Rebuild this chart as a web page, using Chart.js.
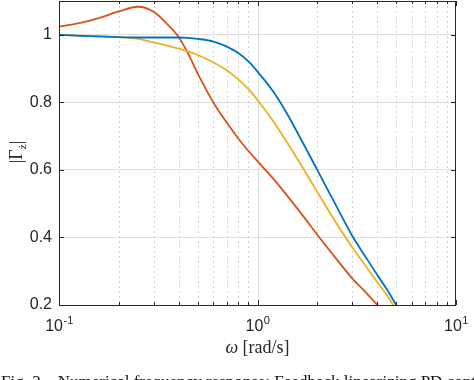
<!DOCTYPE html>
<html>
<head>
<meta charset="utf-8">
<script src="https://cdn.jsdelivr.net/npm/chart.js@4.4.1/dist/chart.umd.min.js"></script>
<style>
  html, body { margin: 0; padding: 0; background: #fff; }
  #wrap { position: relative; width: 474px; height: 380px; }
</style>
</head>
<body>
<div id="wrap"><canvas id="c" width="474" height="380"></canvas></div>
<script>
// Angular frequency samples [rad/s]
const omega = [0.1, 0.13, 0.16, 0.2, 0.25, 0.3, 0.35, 0.4, 0.45, 0.5, 0.6, 0.7, 0.8, 0.9, 1.0, 1.2, 1.4, 1.7, 2.0, 2.5, 3.0, 3.5, 4.0, 4.5, 5.0, 5.5];
// |Gamma| curves
const blueVals   = [1.000, 0.997, 0.995, 0.993, 0.992, 0.992, 0.992, 0.992, 0.991, 0.988, 0.980, 0.965, 0.946, 0.921, 0.891, 0.832, 0.769, 0.678, 0.600, 0.492, 0.405, 0.343, 0.290, 0.245, 0.200, 0.165];
const yellowVals = [1.000, 0.997, 0.995, 0.993, 0.988, 0.977, 0.968, 0.959, 0.950, 0.940, 0.918, 0.895, 0.868, 0.839, 0.807, 0.744, 0.684, 0.604, 0.535, 0.441, 0.371, 0.316, 0.269, 0.228, 0.186, 0.155];
const redVals    = [1.024, 1.036, 1.050, 1.069, 1.083, 1.068, 1.032, 0.994, 0.941, 0.885, 0.799, 0.740, 0.693, 0.656, 0.626, 0.574, 0.526, 0.463, 0.408, 0.336, 0.279, 0.238, 0.201, 0.170, 0.140, 0.115];
// Tick labels
const yTicks = [0.2, 0.4, 0.6, 0.8, 1];
const xMajor = [0.1, 1, 10];
const xExponents = ["-1", "0", "1"];
const xTitle = ["ω", " [rad/s]"];
const yTitle = ["|Γ", "ż", "|"];
const caption = "Fig. 3.   Numerical frequency response: Feedback linearizing PD controller";

const toXY = vals => omega.map((w, i) => ({x: w, y: vals[i]}));

const AX = '#262626';
const GRID = '#dedede';

const decorPlugin = {
  id: 'decor',
  beforeDatasetsDraw(chart) {
    const {ctx, chartArea: a, scales: {x}} = chart;
    ctx.save();
    for (let d = 0.1; d < 10; d *= 10) {
      for (let m = 1; m <= 9; m++) {
        const v = +(d * m).toPrecision(3);
        if (v <= 0.1 || v >= 10) continue;
        const px = Math.round(x.getPixelForValue(v)) + 0.5;
        ctx.beginPath();
        if (m === 1) { ctx.setLineDash([]); ctx.strokeStyle = GRID; }
        else { ctx.setLineDash([2, 3]); ctx.strokeStyle = '#d2d2d2'; }
        ctx.lineWidth = 1;
        ctx.moveTo(px, a.top); ctx.lineTo(px, a.bottom);
        ctx.stroke();
      }
    }
    ctx.restore();
  },
  afterDraw(chart) {
    const {ctx, chartArea: a, scales: {x, y}} = chart;
    ctx.save();
    ctx.setLineDash([]);
    ctx.strokeStyle = AX;
    ctx.lineWidth = 1;
    // box
    ctx.strokeRect(a.left + 0.5, a.top + 0.5, a.right - a.left - 1, a.bottom - a.top);
    // x ticks (inward), top and bottom
    ctx.beginPath();
    for (let d = 0.1; d < 10.5; d *= 10) {
      for (let m = 1; m <= 9; m++) {
        const v = +(d * m).toPrecision(3);
        if (v > 10) break;
        const px = Math.round(x.getPixelForValue(v)) + 0.5;
        const len = m === 1 ? 5 : 3;
        ctx.moveTo(px, a.bottom); ctx.lineTo(px, a.bottom - len);
        ctx.moveTo(px, a.top); ctx.lineTo(px, a.top + len);
        if (v >= 10) break;
      }
    }
    // y ticks (inward), left and right
    yTicks.forEach(v => {
      const py = Math.round(y.getPixelForValue(v)) + 0.5;
      ctx.moveTo(a.left, py); ctx.lineTo(a.left + 5, py);
      ctx.moveTo(a.right, py); ctx.lineTo(a.right - 5, py);
    });
    ctx.stroke();

    // x tick labels: 10^k
    ctx.fillStyle = AX;
    ctx.textBaseline = 'alphabetic';
    xMajor.forEach((v, i) => {
      const px = x.getPixelForValue(v);
      ctx.font = '16px "Liberation Sans", Arial, sans-serif';
      const wb = ctx.measureText('10').width;
      ctx.font = '11px "Liberation Sans", Arial, sans-serif';
      const we = ctx.measureText(xExponents[i]).width;
      const x0 = px - (wb + we) / 2;
      ctx.font = '16px "Liberation Sans", Arial, sans-serif';
      ctx.textAlign = 'left';
      ctx.fillText('10', x0, 331);
      ctx.font = '11px "Liberation Sans", Arial, sans-serif';
      ctx.fillText(xExponents[i], x0 + wb + 0.5, 324);
    });

    // x axis title
    ctx.font = 'italic 18px "Liberation Serif", "Times New Roman", serif';
    const w1 = ctx.measureText(xTitle[0]).width;
    ctx.font = '18px "Liberation Serif", "Times New Roman", serif';
    const w2 = ctx.measureText(xTitle[1]).width;
    const cx = (a.left + a.right) / 2;
    let sx = cx - (w1 + w2) / 2;
    ctx.textAlign = 'left';
    ctx.font = 'italic 18px "Liberation Serif", "Times New Roman", serif';
    ctx.fillText(xTitle[0], sx, 353);
    ctx.font = '18px "Liberation Serif", "Times New Roman", serif';
    ctx.fillText(xTitle[1], sx + w1, 353);

    // y axis title, rotated
    ctx.save();
    ctx.translate(22, 152);
    ctx.rotate(-Math.PI / 2);
    ctx.font = '18px "Liberation Serif", "Times New Roman", serif';
    const t0 = ctx.measureText(yTitle[0]).width;
    const t2 = ctx.measureText(yTitle[2]).width;
    ctx.font = '11px "Liberation Serif", "Times New Roman", serif';
    const t1 = ctx.measureText(yTitle[1]).width;
    let ty = -(t0 + t1 + t2) / 2;
    ctx.font = '18px "Liberation Serif", "Times New Roman", serif';
    ctx.fillText(yTitle[0], ty, 0);
    ctx.font = '11px "Liberation Serif", "Times New Roman", serif';
    ctx.fillText(yTitle[1], ty + t0, 4);
    ctx.font = '18px "Liberation Serif", "Times New Roman", serif';
    ctx.fillText(yTitle[2], ty + t0 + t1, 0);
    ctx.restore();

    // caption
    ctx.fillStyle = '#111';
    ctx.font = '17px "Liberation Serif", "Times New Roman", serif';
    ctx.textAlign = 'left';
    ctx.fillText(caption, 1, 387);
    ctx.restore();
  }
};

new Chart(document.getElementById('c'), {
  type: 'line',
  data: {
    datasets: [
      { label: 'blue', data: toXY(blueVals), borderColor: '#0072BD', borderWidth: 1.8, pointRadius: 0, cubicInterpolationMode: 'monotone', fill: false },
      { label: 'yellow', data: toXY(yellowVals), borderColor: '#EDB120', borderWidth: 1.8, pointRadius: 0, cubicInterpolationMode: 'monotone', fill: false },
      { label: 'red', data: toXY(redVals), borderColor: '#D95319', borderWidth: 1.8, pointRadius: 0, cubicInterpolationMode: 'monotone', fill: false }
    ]
  },
  options: {
    responsive: false,
    animation: false,
    events: [],
    layout: { padding: { left: 0, right: 18, top: 1, bottom: 0 } },
    plugins: { legend: { display: false }, tooltip: { enabled: false } },
    scales: {
      x: {
        type: 'logarithmic',
        min: 0.1, max: 10,
        grid: { display: false },
        border: { display: false },
        ticks: { display: false },
        afterFit: s => { s.height = 75; s.paddingLeft = 0; s.paddingRight = 0; }
      },
      y: {
        type: 'linear',
        min: 0.2, max: 1.1,
        afterBuildTicks: s => { s.ticks = yTicks.map(v => ({value: v})); },
        ticks: {
          color: AX,
          padding: 7,
          font: { family: '"Liberation Sans", Arial, sans-serif', size: 16 },
          callback: v => String(+v.toFixed(1))
        },
        grid: {
          color: c => (c.tick && c.tick.value > 0.25) ? GRID : 'rgba(0,0,0,0)',
          drawTicks: false,
          lineWidth: 1
        },
        border: { display: false },
        afterFit: s => { s.width = 59; s.paddingTop = 0; s.paddingBottom = 0; }
      }
    }
  },
  plugins: [decorPlugin]
});
</script>
</body>
</html>
